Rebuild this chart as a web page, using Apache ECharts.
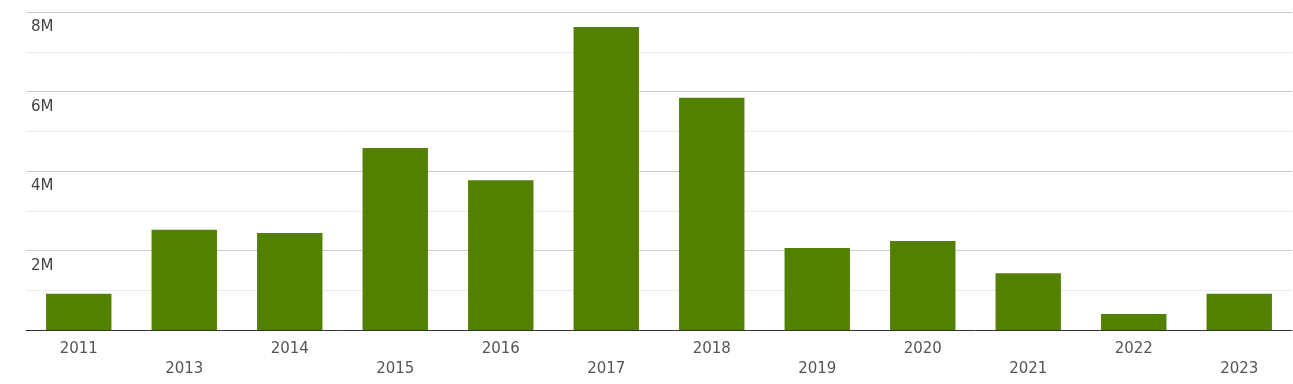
<!DOCTYPE html>
<html>
<head>
<meta charset="utf-8">
<script src="https://cdn.jsdelivr.net/npm/echarts@6/dist/echarts.min.js"></script>
<style>html,body{margin:0;padding:0;background:#fff}#c{width:1293px;height:384px}</style>
</head>
<body>
<div id="c"></div>
<script>
var categories = ['2011','2013','2014','2015','2016','2017','2018','2019','2020','2021','2022','2023'];
var values = [0.91e6, 2.52e6, 2.44e6, 4.58e6, 3.77e6, 7.62e6, 5.84e6, 2.06e6, 2.24e6, 1.43e6, 0.40e6, 0.91e6];
var yTicks = [0, 2e6, 4e6, 6e6, 8e6];

var chart = echarts.init(document.getElementById('c'));
chart.setOption({
  animation: false,
  grid: {left: 26, right: 1, top: 12, bottom: 54, containLabel: false},
  xAxis: {
    type: 'category',
    data: categories,
    axisLine: {show: true, lineStyle: {color: '#333', width: 1}},
    axisTick: {show: false},
    axisLabel: {
      interval: 0,
      color: '#555',
      fontFamily: 'DejaVu Sans',
      fontSize: 15,
      margin: 9,
      lineHeight: 20,
      formatter: function (v, i) { return i % 2 === 1 ? '\n' + v : v; }
    }
  },
  yAxis: {
    type: 'value',
    min: yTicks[0],
    max: yTicks[yTicks.length - 1],
    interval: 2e6,
    axisLine: {show: false},
    axisTick: {show: false},
    splitLine: {show: true, lineStyle: {color: '#cccccc', width: 1}},
    minorTick: {show: false, splitNumber: 2},
    minorSplitLine: {show: true, lineStyle: {color: '#ebebeb', width: 1}},
    axisLabel: {
      inside: true,
      color: '#444',
      fontFamily: 'DejaVu Sans',
      fontSize: 15,
      verticalAlign: 'top',
      margin: 5,
      padding: [8, 0, 0, 0],
      formatter: function (v) { return v === 0 ? '' : (v / 1e6) + 'M'; }
    }
  },
  series: [{
    type: 'bar',
    data: values,
    barWidth: '62%',
    itemStyle: {color: '#548000'}
  }]
});
</script>
</body>
</html>
